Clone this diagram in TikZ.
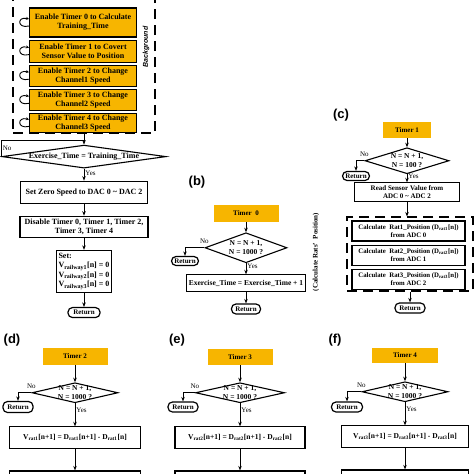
\documentclass[tikz,border=0pt]{standalone}
\usepackage{fontspec}
\setmainfont{Liberation Serif}
\setsansfont{Liberation Sans}
\usetikzlibrary{arrows.meta,positioning,shapes.geometric}
\definecolor{timerorange}{RGB}{247,181,0}

\begin{document}
\begin{tikzpicture}[
  x=1pt, y=-1pt,
  font=\fontsize{7.5}{8.5}\selectfont\bfseries,
  box/.style={draw, line width=1.1pt, align=center, inner sep=1pt},
  obox/.style={box, fill=timerorange, minimum width=107pt, font=\fontsize{8}{9}\selectfont\bfseries},
  tbox/.style={fill=timerorange, minimum width=65pt, minimum height=16pt, inner sep=1pt, font=\fontsize{7}{8}\selectfont\bfseries},
  dec/.style={draw, line width=1.1pt, shape=diamond, inner sep=-2pt, align=center},
  ret/.style={draw, line width=1.2pt, rounded corners=4.5pt, minimum height=10pt, minimum width=29pt, inner sep=0pt, font=\fontsize{7}{8}\selectfont\bfseries},
  lbl/.style={font=\fontsize{7}{8}\selectfont\mdseries, inner sep=1pt},
  tag/.style={font=\fontsize{13}{15}\selectfont\sffamily\bfseries},
  grp/.style={draw, dash pattern=on 10pt off 6pt, line width=1.1pt},
  arr/.style={-{Stealth[length=4.5pt,width=3.5pt]}, line width=0.9pt},
  ln/.style={line width=0.9pt},
  spin/.style={-{Stealth[length=3pt,width=3pt]}, line width=0.9pt}
]
\useasboundingbox (0,0) rectangle (474,474);
\clip (0,0) rectangle (474,474);

% (a)
\node[grp, minimum width=142pt, minimum height=145pt] (bg) at (84,60.5) {};
\node[font=\fontsize{7}{8}\selectfont\sffamily\bfseries\itshape, rotate=90] (bgtxt) at (146,47) {Background};
\node[obox, minimum height=29pt] (t0en) at (83,22.5) {Enable Timer 0 to Calculate\\Training\_Time};
\node[obox, minimum height=22pt, below=2pt of t0en] (t1en) {Enable Timer 1 to Covert\\Sensor Value to Position};
\node[obox, minimum height=21pt, below=2pt of t1en] (t2en) {Enable Timer 2 to Change\\Channel1 Speed};
\node[obox, minimum height=21pt, below=2pt of t2en] (t3en) {Enable Timer 3 to Change\\Channel2 Speed};
\node[obox, minimum height=19pt, below=2pt of t3en] (t4en) {Enable Timer 4 to Change\\Channel3 Speed};
\foreach \b in {t0en,t1en,t2en,t3en,t4en}
  \draw[spin] ([yshift=-3.5pt]\b.west) .. controls +(-12,3) and +(-12,-3) .. ([yshift=3.5pt]\b.west);

\node[dec, aspect=7, minimum width=164pt, minimum height=23pt, font=\fontsize{8}{9}\selectfont\bfseries, below=11pt of bg] (extime) {Exercise\_Time = Training\_Time};
\node[box, minimum width=127pt, minimum height=22pt, font=\fontsize{8}{9}\selectfont\bfseries, below=12pt of extime] (zero) {Set Zero Speed to DAC 0 \textasciitilde{} DAC 2};
\node[box, minimum width=128pt, minimum height=21pt, font=\fontsize{8}{9}\selectfont\bfseries, below=12pt of zero] (disable) {Disable Timer 0, Timer 1, Timer 2,\\Timer 3, Timer 4};
\node[box, align=left, minimum width=55pt, minimum height=42pt, font=\fontsize{8}{9.5}\selectfont\bfseries, below=12pt of disable] (setv) {Set:\\V\textsubscript{railway1}[n] = 0\\V\textsubscript{railway2}[n] = 0\\V\textsubscript{railway3}[n] = 0};
\node[ret, minimum width=32pt, below=14pt of setv] (reta) {Return};

\coordinate (nojoin) at (84,140);
\draw[arr] (bg.south) -- (extime.north);
\draw[ln] (extime.west) |- node[lbl, pos=0.25, right] {No} (nojoin);
\draw[arr] (extime) -- node[lbl, right, pos=0.35] {Yes} (zero);
\draw[arr] (zero) -- (disable);
\draw[arr] (disable) -- (setv);
\draw[arr] (setv) -- (reta);

% (b)
\node[tag] (tagb) at (197,182) {(b)};
\node[tbox, minimum height=17pt] (tm0) at (246,213.5) {Timer\ \ 0};
\node[dec, aspect=2.7, minimum width=82pt, minimum height=30pt, below=10pt of tm0] (chk0) {N = N + 1,\\N = 1000 ?};
\node[ret, minimum width=27pt, minimum height=9pt] (ret0a) at (185,261) {Return};
\node[box, minimum width=119pt, minimum height=17pt, below=11pt of chk0] (exinc) {Exercise\_Time = Exercise\_Time + 1};
\node[ret, below=11pt of exinc] (ret0b) {Return};

\draw[arr] (tm0) -- (chk0);
\draw[arr] (chk0.west) -| node[lbl, pos=0, above=3pt] {No} (ret0a);
\draw[arr] (chk0) -- node[lbl, right, pos=0.3] {Yes} (exinc);
\draw[arr] (exinc) -- (ret0b);

% (c)
\node[tag] (tagc) at (341,115) {(c)};
\node[tbox, minimum width=48pt] (tm1) at (407,130) {Timer 1};
\node[dec, aspect=3.2, minimum width=84pt, minimum height=26pt, below=9pt of tm1] (chk1) {N = N + 1,\\N = 100 ?};
\node[ret, minimum width=27pt, minimum height=9pt] (ret1a) at (356,176) {Return};
\node[box, minimum width=105pt, minimum height=19pt, font=\fontsize{7}{8}\selectfont\bfseries, below=8pt of chk1] (readadc) {Read Sensor Value from\\ADC 0 \textasciitilde{} ADC 2};
\node[grp, minimum width=126pt, minimum height=74pt] (calcgrp) at (410,254) {};
\node[box, minimum width=113pt, minimum height=20pt, font=\fontsize{6.8}{8}\selectfont\bfseries] (rat1) at (408.5,231) {Calculate\ \ Rat1\_Position (D\textsubscript{rat1}[n])\\from ADC 0};
\node[box, minimum width=113pt, minimum height=20pt, font=\fontsize{6.8}{8}\selectfont\bfseries, below=3pt of rat1] (rat2) {Calculate\ \ Rat2\_Position (D\textsubscript{rat2}[n])\\from ADC 1};
\node[box, minimum width=113pt, minimum height=20pt, font=\fontsize{6.8}{8}\selectfont\bfseries, below=3pt of rat2] (rat3) {Calculate\ \ Rat3\_Position (D\textsubscript{rat3}[n])\\from ADC 2};
\node[font=\fontsize{7}{8}\selectfont\bfseries, rotate=90] (calctxt) at (316,252) {(Calculate Rats'\ \ Position)};
\node[ret, minimum width=30pt] (ret1b) at (410,308) {Return};

\draw[arr] (tm1) -- (chk1);
\draw[arr] (chk1.west) -| node[lbl, pos=0, above=3pt] {No} (ret1a);
\draw[arr] (chk1) -- node[lbl, right, pos=0.3] {Yes} (readadc);
\draw[arr] (readadc) -- (readadc |- calcgrp.north);
\draw[arr] (calcgrp) -- (ret1b);

% (d)
\node[tag] (tagd) at (12,340) {(d)};
\node[tbox, minimum height=17pt] (tm2) at (75,356.5) {Timer 2};
\node[dec, aspect=4.3, minimum width=86pt, minimum height=20pt, below=17pt of tm2] (chk2) {N = N + 1,\\N = 1000 ?};
\node[ret, minimum width=30pt, minimum height=11pt] (ret2) at (18,407) {Return};
\node[box, minimum width=131pt, minimum height=22pt, below=23pt of chk2] (vel2) {V\textsubscript{rat1}[n+1] = D\textsubscript{rat1}[n+1] - D\textsubscript{rat1}[n]};
\node[box, minimum width=131pt, minimum height=30pt, below=21pt of vel2] (nxt2) {};

\draw[arr] (tm2) -- (chk2);
\draw[arr] (chk2.west) -| node[lbl, pos=0, above=3pt] {No} (ret2);
\draw[arr] (chk2) -- node[lbl, right, pos=0.3] {Yes} (vel2);
\draw[arr] (vel2) -- (nxt2);

% (e)
\node[tag] (tage) at (177,340) {(e)};
\node[tbox] (tm3) at (240,357) {Timer 3};
\node[dec, aspect=4.3, minimum width=89pt, minimum height=20pt, below=17pt of tm3] (chk3) {N = N + 1,\\N = 1000 ?};
\node[ret, minimum width=30pt, minimum height=10pt] (ret3) at (183,407) {Return};
\node[box, minimum width=130pt, minimum height=22pt, below=23pt of chk3] (vel3) {V\textsubscript{rat2}[n+1] = D\textsubscript{rat2}[n+1] - D\textsubscript{rat2}[n]};
\node[box, minimum width=130pt, minimum height=30pt, below=21pt of vel3] (nxt3) {};

\draw[arr] (tm3) -- (chk3);
\draw[arr] (chk3.west) -| node[lbl, pos=0, above=3pt] {No} (ret3);
\draw[arr] (chk3) -- node[lbl, right, pos=0.3] {Yes} (vel3);
\draw[arr] (vel3) -- (nxt3);

% (f)
\node[tag] (tagf) at (335,340) {(f)};
\node[tbox, minimum width=66pt, minimum height=15pt] (tm4) at (405,355.5) {Timer 4};
\node[dec, aspect=4.3, minimum width=86pt, minimum height=20pt, below=18pt of tm4] (chk4) {N = N + 1,\\N = 1000 ?};
\node[ret, minimum width=31pt, minimum height=10pt] (ret4) at (347,407) {Return};
\node[box, minimum width=127pt, minimum height=22pt, below=23pt of chk4] (vel4) {V\textsubscript{rat3}[n+1] = D\textsubscript{rat3}[n+1] - D\textsubscript{rat3}[n]};
\node[box, minimum width=127pt, minimum height=30pt, below=21pt of vel4] (nxt4) {};

\draw[arr] (tm4) -- (chk4);
\draw[arr] (chk4.west) -| node[lbl, pos=0, above=3pt] {No} (ret4);
\draw[arr] (chk4) -- node[lbl, right, pos=0.3] {Yes} (vel4);
\draw[arr] (vel4) -- (nxt4);
\end{tikzpicture}
\end{document}
